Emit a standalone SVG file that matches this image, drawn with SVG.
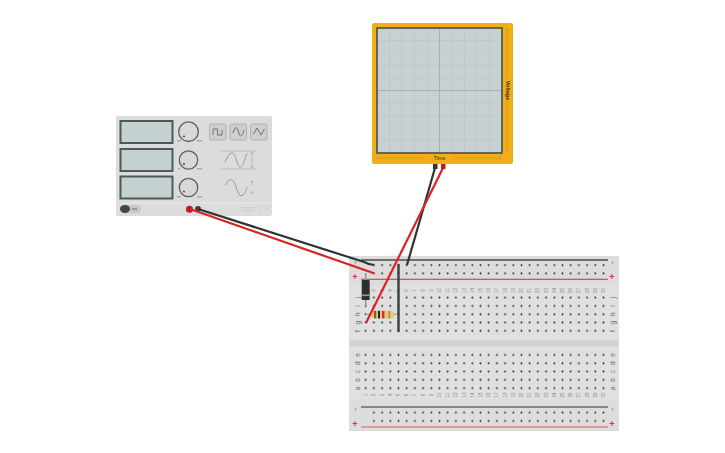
<svg xmlns="http://www.w3.org/2000/svg" xmlns:xlink="http://www.w3.org/1999/xlink" width="725" height="453" viewBox="0 0 725 453">
<style>
text{font-family:"Liberation Sans",Arial,sans-serif}
.bl{font-size:6.500px;fill:#666;text-anchor:middle;dominant-baseline:central}
.n{font-size:4.600px;fill:#8a8a8a;text-anchor:middle;dominant-baseline:central}
.minus{font-size:9px;fill:#666;text-anchor:middle;dominant-baseline:central}
.plus{font-size:9px;font-weight:bold;fill:#c9393b;text-anchor:middle;dominant-baseline:central}
.scr{fill:#c5d0d1;stroke:#4c5a58;stroke-width:2}
.knob{fill:#d8d8d8;stroke:#5f5f5f;stroke-width:1.300}
.btn{fill:#cfcfcf;stroke:#a8a8a8;stroke-width:.8}
.wave{fill:none;stroke:#8a8a8a;stroke-width:.8}
.thin{fill:none;stroke:#a6a6a6;stroke-width:.6}
.grid{stroke:#b6c1c3;stroke-width:.5}
.gridc{stroke:#9aa5a7;stroke-width:.7}
.tick{fill:none;stroke:#c8930f;stroke-width:.6}
.wb{stroke:#2f3336;stroke-width:2.200;fill:none}
.wr{stroke:#dc2224;stroke-width:2.200;fill:none}
</style>
<defs>
<pattern id="holes" patternUnits="userSpaceOnUse" x="361.6" y="261" width="8.2" height="8.3">
<circle cx="4.100" cy="4.150" r="1.700" fill="#f3f3f3"/><circle cx="4.100" cy="4.150" r="1.050" fill="#333"/>
</pattern>
<pattern id="holes2" patternUnits="userSpaceOnUse" x="361.6" y="293.55" width="8.2" height="8.3">
<circle cx="4.100" cy="4.150" r="1.700" fill="#f3f3f3"/><circle cx="4.100" cy="4.150" r="1.050" fill="#333"/>
</pattern>
<pattern id="holes3" patternUnits="userSpaceOnUse" x="361.6" y="350.85" width="8.2" height="8.3">
<circle cx="4.100" cy="4.150" r="1.700" fill="#f3f3f3"/><circle cx="4.100" cy="4.150" r="1.050" fill="#333"/>
</pattern>
<pattern id="holes4" patternUnits="userSpaceOnUse" x="361.6" y="408.55" width="8.2" height="8.3">
<circle cx="4.100" cy="4.150" r="1.700" fill="#f3f3f3"/><circle cx="4.100" cy="4.150" r="1.050" fill="#333"/>
</pattern>
</defs>
<rect width="725" height="453" fill="#fff"/>

<g id="breadboard">
<rect x="349" y="256" width="270" height="175" rx="1.500" fill="#dedede"/>
<rect x="349" y="256" width="270" height="29" fill="#dcdcdc"/>
<rect x="349" y="285" width="270" height="55" fill="#e0e0e0"/>
<rect x="349" y="340" width="270" height="6.500" fill="#d2d2d2"/>
<rect x="349" y="346.500" width="270" height="53" fill="#e0e0e0"/>
<rect x="349" y="400" width="270" height="31" fill="#dddddd"/>
<line x1="361" y1="260" x2="608" y2="260" stroke="#6f6f6f" stroke-width="1.800"/>
<line x1="361" y1="279.300" x2="608" y2="279.300" stroke="#b03a3a" stroke-width="1.100"/>
<line x1="361" y1="407" x2="608" y2="407" stroke="#333" stroke-width="1"/>
<line x1="361" y1="427" x2="608" y2="427" stroke="#d98484" stroke-width="1.400"/>
<rect x="369.9" y="261" width="237.8" height="16.600" fill="url(#holes)"/>
<rect x="361.6" y="293.55" width="246" height="41.500" fill="url(#holes2)"/>
<rect x="361.6" y="350.85" width="246" height="41.500" fill="url(#holes3)"/>
<rect x="369.9" y="408.55" width="237.8" height="16.600" fill="url(#holes4)"/>
<text class="minus" transform="translate(355 262.500) rotate(-90)">-</text><text class="plus" x="355" y="277.300">+</text>
<text class="minus" transform="translate(612 262.500) rotate(-90)">-</text><text class="plus" x="612" y="277.300">+</text>
<text class="minus" transform="translate(355 409.300) rotate(-90)">-</text><text class="plus" x="355" y="424">+</text>
<text class="minus" transform="translate(612 409.300) rotate(-90)">-</text><text class="plus" x="612" y="424">+</text>
<g>
<text class="bl" transform="translate(357 297.700) rotate(-90)">j</text><text class="bl" transform="translate(357 306) rotate(-90)">i</text><text class="bl" transform="translate(357 314.300) rotate(-90)">h</text><text class="bl" transform="translate(357 322.600) rotate(-90)">g</text><text class="bl" transform="translate(357 331) rotate(-90)">f</text>
<text class="bl" transform="translate(357 355) rotate(-90)">e</text><text class="bl" transform="translate(357 363.300) rotate(-90)">d</text><text class="bl" transform="translate(357 371.700) rotate(-90)">c</text><text class="bl" transform="translate(357 380) rotate(-90)">b</text><text class="bl" transform="translate(357 388.300) rotate(-90)">a</text>
<text class="bl" transform="translate(612 297.700) rotate(-90)">j</text><text class="bl" transform="translate(612 306) rotate(-90)">i</text><text class="bl" transform="translate(612 314.300) rotate(-90)">h</text><text class="bl" transform="translate(612 322.600) rotate(-90)">g</text><text class="bl" transform="translate(612 331) rotate(-90)">f</text>
<text class="bl" transform="translate(612 355) rotate(-90)">e</text><text class="bl" transform="translate(612 363.300) rotate(-90)">d</text><text class="bl" transform="translate(612 371.700) rotate(-90)">c</text><text class="bl" transform="translate(612 380) rotate(-90)">b</text><text class="bl" transform="translate(612 388.300) rotate(-90)">a</text>
</g>
<g id="numbers-top">
<text class="n" transform="translate(365.700 290.500) rotate(-90)">1</text><text class="n" transform="translate(373.900 290.500) rotate(-90)">2</text><text class="n" transform="translate(382.100 290.500) rotate(-90)">3</text><text class="n" transform="translate(390.300 290.500) rotate(-90)">4</text><text class="n" transform="translate(398.500 290.500) rotate(-90)">5</text><text class="n" transform="translate(406.700 290.500) rotate(-90)">6</text><text class="n" transform="translate(414.900 290.500) rotate(-90)">7</text><text class="n" transform="translate(423.100 290.500) rotate(-90)">8</text><text class="n" transform="translate(431.300 290.500) rotate(-90)">9</text><text class="n" transform="translate(439.500 290.500) rotate(-90)">10</text><text class="n" transform="translate(447.700 290.500) rotate(-90)">11</text><text class="n" transform="translate(455.900 290.500) rotate(-90)">12</text><text class="n" transform="translate(464.100 290.500) rotate(-90)">13</text><text class="n" transform="translate(472.300 290.500) rotate(-90)">14</text><text class="n" transform="translate(480.500 290.500) rotate(-90)">15</text><text class="n" transform="translate(488.700 290.500) rotate(-90)">16</text><text class="n" transform="translate(496.900 290.500) rotate(-90)">17</text><text class="n" transform="translate(505.100 290.500) rotate(-90)">18</text><text class="n" transform="translate(513.300 290.500) rotate(-90)">19</text><text class="n" transform="translate(521.500 290.500) rotate(-90)">20</text><text class="n" transform="translate(529.700 290.500) rotate(-90)">21</text><text class="n" transform="translate(537.900 290.500) rotate(-90)">22</text><text class="n" transform="translate(546.100 290.500) rotate(-90)">23</text><text class="n" transform="translate(554.300 290.500) rotate(-90)">24</text><text class="n" transform="translate(562.500 290.500) rotate(-90)">25</text><text class="n" transform="translate(570.700 290.500) rotate(-90)">26</text><text class="n" transform="translate(578.900 290.500) rotate(-90)">27</text><text class="n" transform="translate(587.100 290.500) rotate(-90)">28</text><text class="n" transform="translate(595.300 290.500) rotate(-90)">29</text><text class="n" transform="translate(603.500 290.500) rotate(-90)">30</text>
</g>
<g id="numbers-bottom">
<text class="n" transform="translate(365.700 395) rotate(-90)">1</text><text class="n" transform="translate(373.900 395) rotate(-90)">2</text><text class="n" transform="translate(382.100 395) rotate(-90)">3</text><text class="n" transform="translate(390.300 395) rotate(-90)">4</text><text class="n" transform="translate(398.500 395) rotate(-90)">5</text><text class="n" transform="translate(406.700 395) rotate(-90)">6</text><text class="n" transform="translate(414.900 395) rotate(-90)">7</text><text class="n" transform="translate(423.100 395) rotate(-90)">8</text><text class="n" transform="translate(431.300 395) rotate(-90)">9</text><text class="n" transform="translate(439.500 395) rotate(-90)">10</text><text class="n" transform="translate(447.700 395) rotate(-90)">11</text><text class="n" transform="translate(455.900 395) rotate(-90)">12</text><text class="n" transform="translate(464.100 395) rotate(-90)">13</text><text class="n" transform="translate(472.300 395) rotate(-90)">14</text><text class="n" transform="translate(480.500 395) rotate(-90)">15</text><text class="n" transform="translate(488.700 395) rotate(-90)">16</text><text class="n" transform="translate(496.900 395) rotate(-90)">17</text><text class="n" transform="translate(505.100 395) rotate(-90)">18</text><text class="n" transform="translate(513.300 395) rotate(-90)">19</text><text class="n" transform="translate(521.500 395) rotate(-90)">20</text><text class="n" transform="translate(529.700 395) rotate(-90)">21</text><text class="n" transform="translate(537.900 395) rotate(-90)">22</text><text class="n" transform="translate(546.100 395) rotate(-90)">23</text><text class="n" transform="translate(554.300 395) rotate(-90)">24</text><text class="n" transform="translate(562.500 395) rotate(-90)">25</text><text class="n" transform="translate(570.700 395) rotate(-90)">26</text><text class="n" transform="translate(578.900 395) rotate(-90)">27</text><text class="n" transform="translate(587.100 395) rotate(-90)">28</text><text class="n" transform="translate(595.300 395) rotate(-90)">29</text><text class="n" transform="translate(603.500 395) rotate(-90)">30</text>
</g>
</g>

<g id="diode">
<line x1="365.700" y1="273" x2="365.700" y2="306" stroke="#9a9a9a" stroke-width="1.600"/>
<rect x="361.700" y="280" width="8" height="20" rx=".8" fill="#2e2e2e"/>
<rect x="361.700" y="294.500" width="8" height="1.600" fill="#8d9699"/>
</g>

<g id="resistor">
<line x1="365.700" y1="314.300" x2="398.500" y2="314.300" stroke="#a8a8a8" stroke-width="1.600"/>
<rect x="371" y="310.800" width="23" height="7.600" rx="3" fill="#e4c684"/>
<rect x="374" y="310.800" width="2.200" height="7.600" fill="#8a5a24"/>
<rect x="378" y="310.800" width="2" height="7.600" fill="#222"/>
<rect x="382" y="310.800" width="2.400" height="7.600" fill="#e02a20"/>
<rect x="388.600" y="310.800" width="1.400" height="7.600" fill="#b08c30"/>
</g>

<g id="function-generator">
<rect x="116" y="116" width="156" height="100" rx="2" fill="#dcdcdc"/>
<line x1="116" y1="203" x2="272" y2="203" stroke="#e8e8e8" stroke-width="1"/>
<rect class="scr" x="120.500" y="121" width="52" height="22"/>
<rect class="scr" x="120.500" y="149" width="52" height="22"/>
<rect class="scr" x="120.500" y="176.500" width="52" height="22"/>
<circle class="knob" cx="188.500" cy="131.700" r="9.800"/><circle cx="184" cy="136.300" r=".9" fill="#333"/>
<circle class="knob" cx="188.500" cy="160" r="9.200"/><circle cx="184" cy="164" r=".9" fill="#333"/>
<circle class="knob" cx="188.500" cy="187.500" r="9.200"/><circle cx="184" cy="191.600" r=".9" fill="#333"/>
<g fill="#aaa"><rect x="177" y="140" width="4" height="1.500"/><rect x="197" y="140" width="5" height="1.500"/><rect x="178" y="168" width="2" height="1.500"/><rect x="197" y="168" width="5" height="1.500"/><rect x="177" y="196" width="4" height="1.500"/><rect x="197" y="196" width="5" height="1.500"/></g>
<rect class="btn" x="209.500" y="124" width="16.500" height="16" rx="1.500"/>
<rect class="btn" x="230" y="124" width="16.500" height="16" rx="1.500"/>
<rect class="btn" x="250.500" y="124" width="16.500" height="16" rx="1.500"/>
<path d="M213 135V129H217.500V135H222V130" fill="none" stroke="#666" stroke-width=".9"/>
<path d="M233 133C235 126 237 126 238.500 132S242 137 244 130" fill="none" stroke="#666" stroke-width=".9"/>
<path d="M253.500 134L257 128L261 135L264.500 129" fill="none" stroke="#666" stroke-width=".9"/>
<path class="thin" d="M221 151H256M221 169H256"/>
<path class="wave" d="M225 162Q229 153 232 153C236 153 237 167 240 167C243.500 167 245 158 247 153"/>
<path class="thin" d="M252 152V168M250.500 154L252 152L253.500 154M250.500 166L252 168L253.500 166"/>
<path class="wave" d="M225 185Q228 179.500 231 179.500C236 179.500 237 195.700 241 195.700C244 195.700 246 191 247 187"/>
<path class="thin" d="M252 181V185M252 190V194M250.500 183L252 181L253.500 183M250.500 192L252 194L253.500 192"/>
<rect x="120" y="205" width="21" height="8" rx="4" fill="#c9c9c9"/>
<ellipse cx="125" cy="209" rx="5" ry="4" fill="#444"/>
<rect x="132" y="208" width="5" height="2" fill="#999"/>
<g fill="#cfcfcf"><rect x="241" y="207" width="14" height="1.200"/><rect x="243" y="210" width="10" height="1.200"/></g>
<path d="M259 212L261 206H266L265 211M266 209H270" fill="none" stroke="#cfcfcf" stroke-width=".7"/>
<circle cx="198" cy="209" r="3" fill="#3a4244"/>
<circle cx="189.500" cy="209.300" r="3.500" fill="#c4181c"/>
</g>

<g id="oscilloscope">
<rect x="372" y="23" width="141" height="141" rx="2" fill="#f2ae17"/>
<rect x="377" y="28" width="125" height="125" fill="#c7d1d3"/>
<g class="grid">
<line x1="389.500" y1="28" x2="389.500" y2="153"/><line x1="402" y1="28" x2="402" y2="153"/><line x1="414.500" y1="28" x2="414.500" y2="153"/><line x1="427" y1="28" x2="427" y2="153"/><line x1="452" y1="28" x2="452" y2="153"/><line x1="464.500" y1="28" x2="464.500" y2="153"/><line x1="477" y1="28" x2="477" y2="153"/><line x1="489.500" y1="28" x2="489.500" y2="153"/>
<line x1="377" y1="40.500" x2="502" y2="40.500"/><line x1="377" y1="53" x2="502" y2="53"/><line x1="377" y1="65.500" x2="502" y2="65.500"/><line x1="377" y1="78" x2="502" y2="78"/><line x1="377" y1="103" x2="502" y2="103"/><line x1="377" y1="115.500" x2="502" y2="115.500"/><line x1="377" y1="128" x2="502" y2="128"/><line x1="377" y1="140.500" x2="502" y2="140.500"/>
</g>
<line class="gridc" x1="439.500" y1="28" x2="439.500" y2="153"/>
<line class="gridc" x1="377" y1="90.500" x2="502" y2="90.500"/>
<rect x="377" y="28" width="125" height="125" fill="none" stroke="#555b57" stroke-width="1.800"/>
<path class="tick" d="M377.500 156V160M377.500 158H425M453 158H500.500M500.500 156V160"/>
<path class="tick" d="M505 29H509M507 29V79M507 101V152M505 152H509"/>
<text x="439.500" y="160" font-size="5.500" fill="#3d300c" text-anchor="middle">Time</text>
<text transform="translate(505.700 90.500) rotate(90)" font-size="5.500" font-weight="bold" fill="#3d300c" text-anchor="middle">Voltage</text>
<rect x="433" y="164" width="4.500" height="5" fill="#333"/>
<rect x="441" y="164" width="4.500" height="5" fill="#c4181c"/>
</g>

<g id="connectors">
<path class="wb" d="M198 209L364 262Q369 264.500 374 265"/>
<path class="wr" d="M190 209L374 273.300"/>
<path class="wb" d="M435 168L407 265"/>
<path class="wr" d="M443 168L366 323"/>
<line x1="398.500" y1="265" x2="398.500" y2="331" stroke="#3a3e40" stroke-width="2.400" stroke-linecap="round"/>
</g>
</svg>
